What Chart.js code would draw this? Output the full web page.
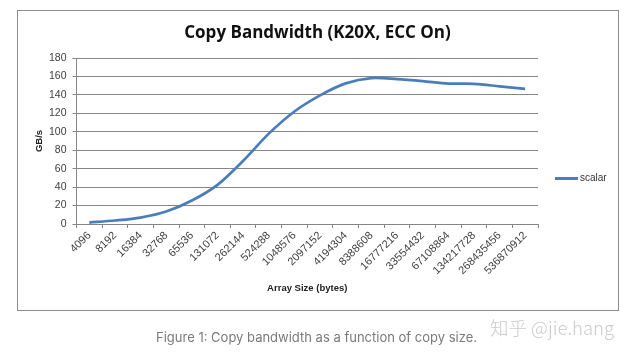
<!DOCTYPE html>
<html>
<head>
<meta charset="utf-8">
<script src="https://cdn.jsdelivr.net/npm/chart.js@4.4.1/dist/chart.umd.min.js"></script>
<style>
  html, body { margin: 0; padding: 0; background: #fff; }
  body { width: 635px; height: 356px; position: relative; overflow: hidden; }
  #c { position: absolute; left: 0; top: 0; }
  #box { position: absolute; left: 17px; top: 10px; width: 600px; height: 299px; border: 1px solid #8c8c8c; pointer-events: none; }
  #title { position: absolute; left: 0; width: 635px; top: 21px; text-align: center; font: bold 17px "Open Sans", sans-serif; color: #111; line-height: 22px; white-space: nowrap; }
  #legend { position: absolute; left: 555px; top: 171px; font: 10px "Liberation Sans", Arial, sans-serif; color: #333; line-height: 14px; white-space: nowrap; }
  #legend .ln { display: inline-block; width: 23px; height: 3px; background: #4a7ebb; vertical-align: middle; margin-right: 2px; }
  #caption { position: absolute; left: 156px; top: 328px; font: 13px Inter, "Noto Sans", sans-serif; color: #7a7a7a; white-space: nowrap; line-height: 18px; }
  #wm { position: absolute; left: 490px; top: 315px; font: 300 18.5px "Noto Sans CJK SC", "Noto Sans", sans-serif; color: #cbcbcb; white-space: nowrap; line-height: 24px; }
</style>
</head>
<body>
<canvas id="c" width="635" height="356"></canvas>
<div id="box"></div>
<div id="title">Copy Bandwidth (K20X, ECC On)</div>
<div id="legend"><span class="ln"></span>scalar</div>
<div id="caption">Figure 1: Copy bandwidth as a function of copy size.</div>
<div id="wm">知乎 @jie.hang</div>
<script>
const categories = ["4096","8192","16384","32768","65536","131072","262144","524288","1048576","2097152","4194304","8388608","16777216","33554432","67108864","134217728","268435456","536870912"];
const scalarValues = [1.6, 3.8, 7, 13.5, 25.5, 42.5, 68.5, 98, 122, 139.5, 152.5, 158.3, 157.2, 155, 152.3, 152, 149.3, 146.5];
const yTicks = [0, 20, 40, 60, 80, 100, 120, 140, 160, 180];
const seriesName = "scalar";
const xTitle = "Array Size (bytes)";
const yTitle = "GB/s";

new Chart(document.getElementById('c'), {
  type: 'line',
  data: {
    labels: categories,
    datasets: [{
      label: seriesName,
      data: scalarValues,
      borderColor: '#4a7ebb',
      backgroundColor: '#4a7ebb',
      borderWidth: 2.75,
      pointRadius: 0,
      tension: 0.3,
      fill: false
    }]
  },
  options: {
    responsive: false,
    animation: false,
    devicePixelRatio: 1,
    layout: { padding: { top: 58, right: 97, left: 30, bottom: 62 } },
    plugins: { legend: { display: false }, title: { display: false }, tooltip: { enabled: false } },
    scales: {
      x: {
        offset: true,
        grid: { offset: true, drawOnChartArea: false, tickLength: 4, color: '#868686' },
        border: { color: '#868686' },
        ticks: { minRotation: 45, maxRotation: 45, autoSkip: false, padding: 1, color: '#404040', font: { family: 'Liberation Sans', size: 11 } },
        title: { display: true, text: xTitle, color: '#222', padding: { top: 0, bottom: 0 }, font: { family: 'Liberation Sans', size: 9.5, weight: 'bold' } },
        afterFit: (s) => { s.height = 70; }
      },
      y: {
        min: 0, max: 180,
        afterBuildTicks: (s) => { s.ticks = yTicks.map(v => ({ value: v })); },
        grid: { color: '#868686', tickLength: 4 },
        border: { color: '#868686' },
        ticks: { padding: 6, color: '#404040', font: { family: 'Liberation Sans', size: 10.5 } },
        title: { display: true, text: yTitle, color: '#222', padding: { top: 4, bottom: 0 }, font: { family: 'Liberation Sans', size: 9.5, weight: 'bold' } },
        afterFit: (s) => { s.width = 46.5; }
      }
    }
  }
});
</script>
</body>
</html>
